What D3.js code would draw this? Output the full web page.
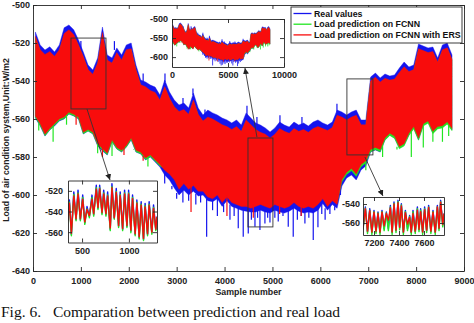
<!DOCTYPE html>
<html><head><meta charset="utf-8">
<script src="https://cdn.jsdelivr.net/npm/d3@7"></script>
<style>body{margin:0;background:#fff}svg{display:block}</style>
</head><body><svg id="c" width="474" height="323"></svg>
<script>
// ---------- data ----------
const binStep = 100; // samples per envelope bin
const seriesNames = ["Real values", "Load prediction on FCNN", "Load prediction on FCNN with ERS"];
const seriesColors = ["#1414ee", "#22e622", "#f80c0c"];

// upper / lower envelopes per 100-sample bin
const realHi = [-514.2,-521,-523.7,-522,-524.7,-521,-512,-510.5,-513,-518.4,
 -524.7,-531.6,-534.2,-527.9,-511.6,-526.3,-527.9,-522.6,-526.3,-521,
 -520,-531.6,-539.5,-540.5,-542.1,-543.2,-547.4,-539.5,-545.8,-550,
 -552.6,-551.6,-554.2,-546.3,-554.2,-557.9,-555.3,-556.8,-557.9,-559.5,
 -560.5,-562.1,-560.5,-563.2,-556.8,-559.5,-562.1,-563.2,-564.7,-566.8,
 -564.7,-561.6,-563.2,-564.2,-561.6,-563.2,-562.1,-563.7,-561.6,-560.5,
 -562.1,-563.2,-561.6,-555.3,-556.3,-557.9,-556.3,-555.3,-560.5,-560.5,
 -537.9,-535.8,-538.4,-536.3,-537.4,-536.8,-533.2,-530,-532.6,-531.6,
 -520.5,-521.6,-522.6,-522.1,-527.9,-521,-520,-526.3];
const realLo = [-559.5,-563.7,-569,-565.8,-563.7,-561,-560,-557.4,-558.4,-560,
 -567.9,-566.3,-567.9,-574.2,-576.8,-578.9,-572.1,-575.8,-577.4,-574.7,
 -571,-577.4,-578.4,-581.6,-580,-582.6,-585.3,-589.5,-592.1,-596.3,
 -600,-597.5,-600,-598,-600.5,-600,-603,-603.5,-602,-606,
 -603,-606,-607,-608,-608.5,-609,-609,-608,-609,-609.5,
 -608,-609,-609.5,-608.5,-607,-608.5,-609.5,-609,-609.5,-608,
 -604.5,-608,-605,-607,-595.3,-591,-589.5,-592.1,-586.8,-584.7,
 -577.4,-576.3,-577.4,-571,-568.4,-570,-575.3,-573.7,-568.4,-564.7,
 -571,-563.2,-561.6,-567.4,-564.7,-564.2,-562.1,-565.8];
const fcnnHi = [-517,-524,-527,-525,-527.5,-524,-516,-514,-516,-521.5,
 -527.5,-534.5,-537,-531,-515.5,-529.5,-531,-525.5,-529.5,-524,
 -523.5,-534.5,-542.5,-543.5,-545.5,-546.5,-550.5,-543.5,-549.5,-554,
 -556.5,-555.5,-558,-550.5,-558,-561.5,-559.5,-560.5,-562,-563.5,
 -564.5,-566,-564.5,-567,-561,-563.5,-566,-567.5,-568.5,-570.5,
 -568.5,-565.5,-567,-568,-565.5,-567,-566,-567.5,-565.5,-564.5,
 -565.5,-566.5,-565,-558.5,-559.5,-561,-559.5,-558.5,-563.5,-563.5,
 -540.5,-538.5,-541,-539,-540,-539.5,-536,-533,-535.5,-534.5,
 -523.5,-524.5,-525.5,-525,-530.5,-524,-523,-529];
const fcnnLo = [-559.3,-563.3,-568.8,-565.8,-563.3,-560.8,-559.8,-557.3,-558.3,-559.8,
 -567.8,-566.3,-567.8,-573.8,-576.3,-578.8,-571.8,-575.8,-577.3,-574.8,
 -570.8,-577.3,-578.3,-581.3,-579.8,-582.3,-584.8,-586,-588,-591,
 -596,-593,-596,-594,-597,-597,-600,-601,-599,-603,
 -600,-603,-604,-605,-605,-606,-605,-604,-605,-606,
 -604,-605,-606,-605,-603,-605,-606,-605,-606,-604,
 -601,-605,-602,-604,-593.2,-589.2,-587.2,-590.2,-585.2,-583.2,
 -577.2,-576.2,-577.2,-571.2,-568.7,-570.2,-575.7,-574.2,-568.7,-565.2,
 -571.2,-563.7,-562.2,-567.7,-565.2,-564.7,-562.7,-566.2];
const ersHi = [-516.5,-523.5,-526,-524.5,-527,-523.5,-515,-513,-515.5,-521,
 -527,-534,-536.5,-530.5,-514.5,-529,-530.5,-525,-529,-523.5,
 -523,-534,-542,-543,-545,-546,-550,-543,-549,-553.5,
 -556,-555,-557.5,-550,-557.5,-561,-559,-560,-561.5,-563,
 -564,-565.5,-564,-566.5,-560.5,-563,-565.5,-567,-568,-570,
 -568,-565,-566.5,-567.5,-565,-566.5,-565.5,-567,-565,-564,
 -565,-566,-564.5,-558,-559,-560.5,-559,-558,-563,-563,
 -540,-538,-540.5,-538.5,-539.5,-539,-535.5,-532.5,-535,-534,
 -523,-524,-525,-524.5,-530,-523.5,-522.5,-528.5];
const ersLo = [-558.5,-562.5,-568,-565,-562.5,-560,-559,-556.5,-557.5,-559,
 -567,-565.5,-567,-573,-575.5,-578,-571,-575,-576.5,-574,
 -570,-576.5,-577.5,-580.5,-579,-581.5,-584,-587,-589,-592,
 -597,-594,-597,-595,-598,-598,-601,-602,-600,-604,
 -601,-604,-605,-606,-606,-607,-606,-605,-606,-607,
 -605,-606,-607,-606,-604,-606,-607,-606,-607,-605,
 -602,-606,-603,-605,-592,-588,-586,-589,-584,-582,
 -576,-575,-576,-570,-567.5,-569,-574.5,-573,-567.5,-564,
 -570,-562.5,-561,-566.5,-564,-563.5,-561.5,-565];
// isolated spikes beyond the envelopes [sample, value]
const realSpikes = [[2750,-594],[2900,-597],[3000,-602],[3130,-604],[3250,-603],[3400,-605],[3500,-604],
 [3626,-622],[3750,-608],[3850,-611],[3980,-609],[4113,-613],[4200,-611],[4286,-617.5],[4390,-622],
 [4495,-620.2],[4560,-613],[4635,-616.7],[4690,-612],[4739,-618.4],[4843,-615],[4900,-612],[4948,-614.5],
 [5050,-612],[5121,-614],[5220,-611],[5330,-616.7],[5434,-622],[5520,-613],[5600,-611],[5678,-615],
 [5760,-612],[5852,-623.7],[5950,-617],[6030,-610],[6100,-613],[6200,-610],[6300,-608],[6420,-600],
 [1000,-519],[1700,-519],[2300,-536],[2756,-536],[3132,-549],[3340,-544],[3591,-555],[4468,-553],
 [4676,-559],[5157,-558],[5616,-559],[6347,-552]];
const fcnnSpikes = [[120,-566],[420,-572],[700,-563],[1350,-578],[1650,-579.5],[2100,-576],[2400,-585],
 [6950,-587],[7300,-580],[7600,-576],[7900,-580],[8150,-575],[8350,-572],[8550,-572],[8680,-569]];
const ersSpikes = [[250,-567],[900,-563],[1450,-580],[1900,-579],[2300,-582],
 [3300,-609],[4050,-611],[4600,-612],[5150,-610],[5600,-611]];

// zoom A detail (samples 350-1300)
const zoomASamples = [350,365,386,412,436,457,482,507,529,553,578,606,624,652,670,688,713,731,755,773,801,819,844,865,890,907,933,954,979,997,1021,1039,1067,1085,1110,1131,1156,1173,1199,1216,1245,1263,1287,1300];
const zoomAReal = [-548,-528.9,-562.2,-521,-547.9,-519.3,-547.9,-524.1,-551.1,-535.2,-544.8,-524.1,-543.1,-514.6,-536.9,-514.6,-541.6,-519.3,-543.1,-521,-557.4,-513,-546.4,-517.8,-554.3,-521,-557.4,-519.3,-554.3,-519.3,-559,-524.1,-562.2,-528.9,-565.4,-530.5,-567,-532.1,-562.2,-530.5,-560.7,-533.6,-557.4,-545];
const zoomAFcnn = [-549,-531,-563.5,-523.5,-549,-522,-549,-526.5,-552.5,-537.5,-546,-526.5,-544.5,-517,-538,-517,-543,-522,-544.5,-524,-558.5,-516,-547.5,-520.5,-555.5,-523.5,-558.5,-522,-555.5,-522,-560.5,-526.5,-563.5,-531,-566.5,-533,-568,-534.5,-563.5,-533,-562,-536,-558.5,-546];
const zoomAErs = [-548,-532,-561,-525,-547,-523,-547,-528,-550,-538,-544,-528,-542,-518.5,-536,-518,-541,-523,-542,-525,-556,-517,-546,-521.5,-553.5,-524.5,-556.5,-523,-553.5,-523,-558,-527.5,-561.5,-532,-564.5,-534,-566,-535.5,-561.5,-534,-560,-537,-557,-545];

// zoom B detail (samples 7112-7760)
const zoomBSamples = [7112,7131,7148,7166,7183,7200,7216,7232,7248,7264,7281,7299,7315,7331,7345,7360,7376,7392,7405,7419,7435,7451,7468,7485,7498,7512,7530,7547,7560,7573,7589,7605,7621,7637,7655,7672,7690,7707,7720,7733,7750,7760];
const zoomBReal = [-566,-543.2,-569,-545,-570,-546.7,-569,-548.4,-570,-546.7,-566,-548.4,-566,-541.4,-570,-537.9,-568,-536.1,-565,-539.7,-570,-546.7,-566,-551.9,-570,-546.7,-569,-543.2,-567,-545,-570,-543.2,-568,-541.4,-569,-546.7,-570,-541.4,-566,-536.1,-562,-550];
const zoomBFcnn = [-567,-544.5,-571,-546.5,-572,-548,-571,-549.5,-572,-548,-568,-549.5,-568,-543,-572,-539.5,-570,-537.5,-567,-541,-572,-548,-568,-553,-572,-548,-571,-545,-569,-546.5,-572,-545,-570,-543,-571,-548,-572,-543,-568,-537.5,-564,-551];
const zoomBErs = [-565,-545,-568.5,-547,-569.5,-548.5,-568.5,-550,-569.5,-548.5,-563,-550,-557,-544,-569.5,-540,-567.5,-538.5,-564.5,-542,-569.5,-549,-561,-554,-569.5,-550,-568.5,-546.5,-566.5,-548,-569.5,-546,-567.5,-543.5,-568.5,-548.5,-569.5,-543,-565.5,-538,-561.5,-550];

// ticks
const mainXTicks = [0,1000,2000,3000,4000,5000,6000,7000,8000,9000];
const mainYTicks = [-640,-620,-600,-580,-560,-540,-520,-500];
const topXTicks = [0,5000,10000], topYTicks = [-600,-550,-500];
const zAXTicks = [500,1000], zAYTicks = [-560,-540,-520];
const zBXTicks = [7200,7400,7600], zBYTicks = [-560,-540];

// zoom rectangles in main data units [x0,x1,yTop,yBottom]
const rects = [[793,1524,-517.4,-554.7],[4489,5010,-570,-616.8],[6555,7098,-538.9,-578.9]];

// ---------- drawing ----------
const svg = d3.select("#c");
svg.append("rect").attr("width",474).attr("height",323).attr("fill","#fff");
const AX = "#262626";
const FONT = "'Liberation Sans', Arial, sans-serif";
const defs = svg.append("defs");
defs.append("marker").attr("id","ah").attr("viewBox","0 0 10 10").attr("refX",10).attr("refY",5)
  .attr("markerWidth",6).attr("markerHeight",6).attr("orient","auto-start-reverse").attr("markerUnits","userSpaceOnUse")
  .append("path").attr("d","M0,0L10,5L0,10z").attr("fill","#222");

const bins = realHi.map((_, i) => i * binStep + binStep / 2);
const envelopes = [[realHi, realLo], [fcnnHi, fcnnLo], [ersHi, ersLo]];
const spikes = [realSpikes, fcnnSpikes, ersSpikes];

function panel(id, x, y) {
  const [x0, x1] = x.range(), [y0, y1] = y.range();
  defs.append("clipPath").attr("id", id).append("rect")
    .attr("x", x0).attr("y", y1).attr("width", x1 - x0).attr("height", y0 - y1);
  const g = svg.append("g");
  g.append("rect").attr("x", x0).attr("y", y1).attr("width", x1 - x0).attr("height", y0 - y1).attr("fill", "#fff");
  const d = g.append("g").attr("clip-path", `url(#${id})`);
  return {g, d};
}

function axes(g, x, y, xt, yt, fs, xpad, ypad) {
  const [x0, x1] = x.range(), [y0, y1] = y.range();
  const tl = 4;
  const fmt = v => String(v);
  const b = g.append("g").attr("transform", `translate(0,${y0})`)
    .call(d3.axisBottom(x).tickValues(xt).tickSize(-tl).tickSizeOuter(0).tickPadding(xpad).tickFormat(fmt));
  const t = g.append("g").attr("transform", `translate(0,${y1})`)
    .call(d3.axisTop(x).tickValues(xt).tickSize(-tl).tickSizeOuter(0).tickFormat(""));
  const l = g.append("g").attr("transform", `translate(${x0},0)`)
    .call(d3.axisLeft(y).tickValues(yt).tickSize(-tl).tickSizeOuter(0).tickPadding(ypad).tickFormat(fmt));
  const r = g.append("g").attr("transform", `translate(${x1},0)`)
    .call(d3.axisRight(y).tickValues(yt).tickSize(-tl).tickSizeOuter(0).tickFormat(""));
  [b, t, l, r].forEach(a => {
    a.selectAll("path,line").attr("stroke", AX).attr("stroke-width", 0.9);
    a.selectAll("text").attr("fill", "#222").style("font-family", FONT).style("font-size", fs + "px").style("font-weight", "bold");
  });
}

function drawEnvelopes(d, x, y, sw) {
  envelopes.forEach(([hi, lo], k) => {
    d.append("path").datum(bins)
      .attr("d", d3.area().x(s => x(s)).y0((s, i) => y(lo[i])).y1((s, i) => y(hi[i])))
      .attr("fill", seriesColors[k]).attr("stroke", seriesColors[k]).attr("stroke-width", 0.4);
    const bi = s => Math.min(Math.floor(s / binStep), lo.length - 1);
    d.selectAll(null).data(spikes[k]).join("line")
      .attr("x1", p => x(p[0])).attr("x2", p => x(p[0]))
      .attr("y1", p => p[1] > hi[bi(p[0])] ? y(hi[bi(p[0])]) + 2 : y(lo[bi(p[0])]) - 2)
      .attr("y2", p => y(p[1]))
      .attr("stroke", seriesColors[k]).attr("stroke-width", sw);
  });
}

// main plot
const x = d3.scaleLinear([0, 9000], [33, 464]);
const y = d3.scaleLinear([-640, -500], [271, 5]);
const mainP = panel("cm", x, y);
drawEnvelopes(mainP.d, x, y, 1.2);
mainP.d.selectAll(null).data(rects).join("rect")
  .attr("x", r => x(r[0])).attr("y", r => y(r[2]))
  .attr("width", r => x(r[1]) - x(r[0])).attr("height", r => y(r[3]) - y(r[2]))
  .attr("fill", "none").attr("stroke", "#333").attr("stroke-width", 0.9);
axes(mainP.g, x, y, mainXTicks, mainYTicks, 9, 7, 3);
mainP.g.append("text").attr("x", (x(0) + x(9000)) / 2).attr("y", 295).attr("text-anchor", "middle")
  .style("font-family", FONT).style("font-size", "8.8px").style("font-weight", "bold").attr("fill", "#222")
  .text("Sample number");
mainP.g.append("text").attr("transform", `translate(9,140) rotate(-90)`).attr("text-anchor", "middle")
  .style("font-family", FONT).style("font-size", "8.7px").style("font-weight", "bold").attr("fill", "#222")
  .text("Load of air condition system,Unit:W/m2");

// arrows (main data units: from -> to)
const arrows = [[[4676, -569.5], [4426, -533.2]], [[1127, -554.7], [1608, -592.1]], [[6931, -580], [7307, -600.5]]];
svg.selectAll(null).data(arrows).join("line")
  .attr("x1", a => x(a[0][0])).attr("y1", a => y(a[0][1]))
  .attr("x2", a => x(a[1][0])).attr("y2", a => y(a[1][1]))
  .attr("stroke", "#333").attr("stroke-width", 0.9).attr("marker-end", "url(#ah)");

// top inset: whole series
const xT = d3.scaleLinear([0, 10000], [172, 284]);
const yT = d3.scaleLinear([-626, -500], [67, 19]);
const topP = panel("ct", xT, yT);
drawEnvelopes(topP.d, xT, yT, 0.8);
axes(topP.g, xT, yT, topXTicks, topYTicks, 9, 5, 4);

// detail insets
function detail(id, xs, ys, samples, vals, xt, yt, xpad, ypad) {
  const p = panel(id, xs, ys);
  vals.forEach((v, k) => {
    p.d.append("path").datum(samples)
      .attr("d", d3.line().x(s => xs(s)).y((s, i) => ys(v[i])))
      .attr("fill", "none").attr("stroke", seriesColors[k]).attr("stroke-width", 1.4).attr("stroke-linejoin", "round");
  });
  axes(p.g, xs, ys, xt, yt, 9, xpad, ypad);
}
detail("ca", d3.scaleLinear([350, 1300], [68, 157]), d3.scaleLinear([-570, -510], [242.5, 180.5]),
  zoomASamples, [zoomAReal, zoomAFcnn, zoomAErs], zAXTicks, zAYTicks, 5, 5);
detail("cb", d3.scaleLinear([7112, 7760], [363, 444]), d3.scaleLinear([-572.6, -532.6], [235, 197]),
  zoomBSamples, [zoomBReal, zoomBFcnn, zoomBErs], zBXTicks, zBYTicks, 5, 3);

// legend
const lg = svg.append("g");
lg.append("rect").attr("x", 291).attr("y", 7).attr("width", 171).attr("height", 36)
  .attr("fill", "#fff").attr("stroke", AX).attr("stroke-width", 0.9);
seriesNames.forEach((n, k) => {
  const yy = 13.5 + k * 10.7;
  lg.append("line").attr("x1", 293.5).attr("x2", 311.5).attr("y1", yy).attr("y2", yy)
    .attr("stroke", seriesColors[k]).attr("stroke-width", 1.3);
  lg.append("text").attr("x", 314).attr("y", yy + 3.1).text(n)
    .style("font-family", FONT).style("font-size", "8.8px").style("font-weight", "bold").attr("fill", "#111");
});

// caption
const cap = svg.append("g").style("font-family", "'Liberation Serif', 'Times New Roman', serif").style("font-size", "15.5px").attr("fill", "#111");
cap.append("text").attr("x", 1).attr("y", 317).text("Fig. 6.");
cap.append("text").attr("x", 53).attr("y", 317).text("Comparation between prediction and real load");
</script></body></html>
